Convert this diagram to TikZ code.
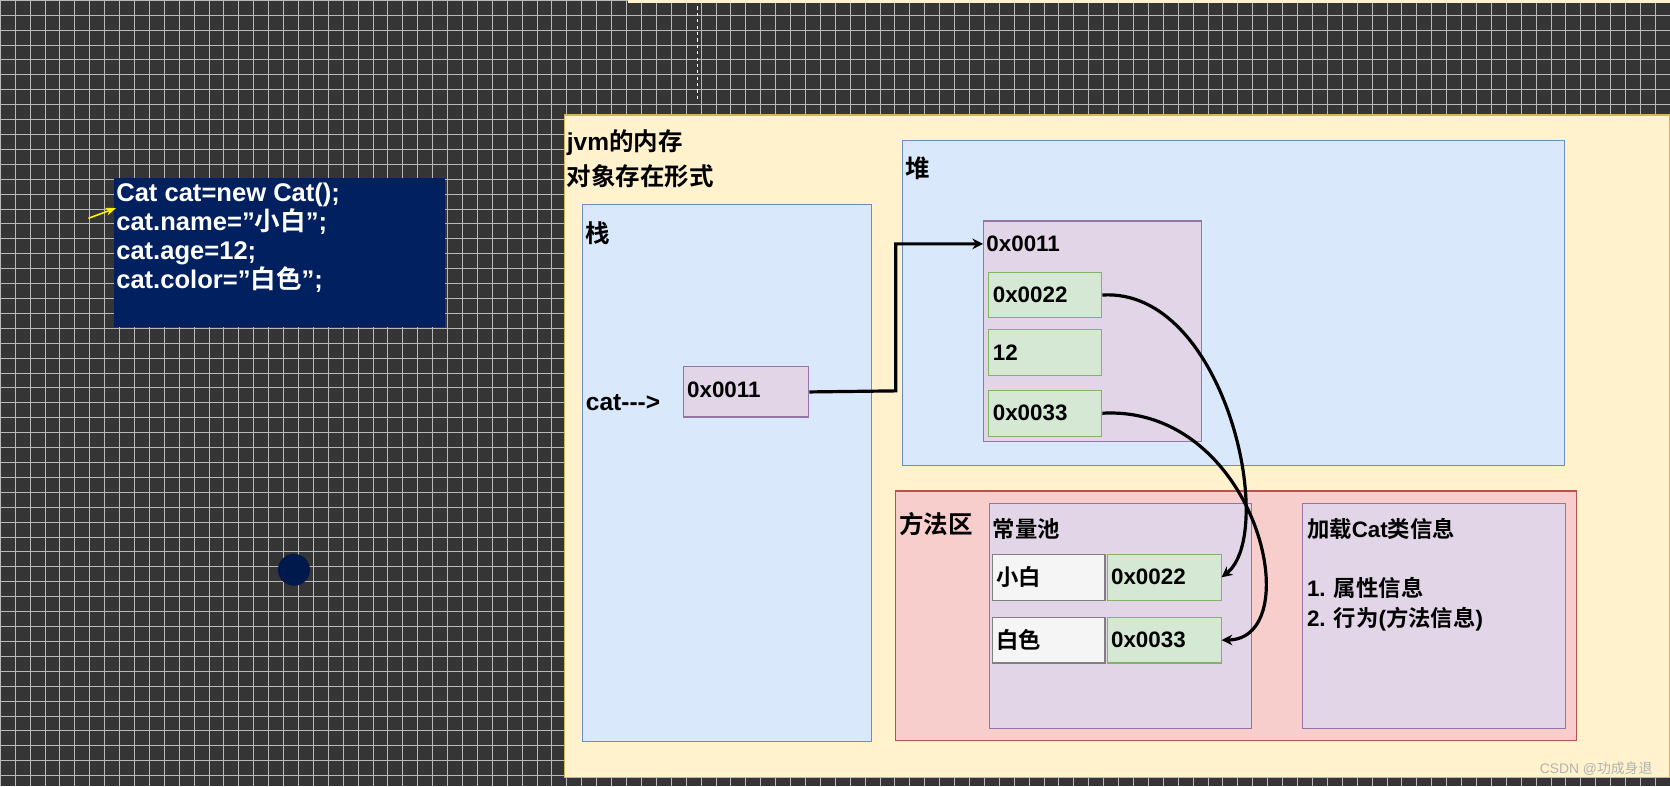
\documentclass[tikz,border=0pt]{standalone}
\usepackage{fontspec}
\setmainfont{Liberation Sans}[Ligatures=NoCommon]
\newfontfamily\cjk{Noto Sans CJK SC}[BoldFont={Noto Sans CJK SC Bold}]
\newcommand{\zh}[1]{{\cjk #1}}
\newcommand{\dq}{\char"0022\relax}
\usetikzlibrary{arrows.meta}
\definecolor{bg}{HTML}{353535}
\definecolor{navy}{HTML}{002060}
\definecolor{yel}{HTML}{FFF2CC}\definecolor{yelS}{HTML}{D6B656}
\definecolor{blu}{HTML}{DAE8FC}\definecolor{bluS}{HTML}{6C8EBF}
\definecolor{pur}{HTML}{E1D5E7}\definecolor{purS}{HTML}{9673A6}
\definecolor{grn}{HTML}{D5E8D4}\definecolor{grnS}{HTML}{82B366}
\definecolor{red}{HTML}{F8CECC}\definecolor{redS}{HTML}{B85450}
\definecolor{wht}{HTML}{F5F5F5}
\tikzset{
 box/.style={draw,line width=1pt},
 yb/.style={box,fill=yel,draw=yelS},
 bb/.style={box,fill=blu,draw=bluS},
 pb/.style={box,fill=pur,draw=purS},
 gb/.style={box,fill=grn,draw=grnS},
 rb/.style={box,fill=red,draw=redS},
 wb/.style={box,fill=wht,draw=gray},
 lbl/.style={anchor=west,inner sep=0pt,font=\bfseries\fontsize{21}{25}\selectfont},
 big/.style={anchor=west,inner sep=0pt,font=\bfseries\fontsize{23}{27}\selectfont},
 code/.style={anchor=base west,inner sep=0pt,text=white,font=\bfseries\fontsize{24}{28}\selectfont},
 link/.style={line width=3pt,-{Stealth[length=10pt,width=10pt]}}
}
\begin{document}
\begin{tikzpicture}[x=1pt,y=-1pt]
\useasboundingbox (0,0) rectangle (1568,738);
\fill[bg] (0,0) rectangle (1568,738);
\foreach \i in {0,14,...,1568} \draw[gray!55,line width=0.4pt] (\i,0) -- (\i,738);
\foreach \j in {0,14,...,738} \draw[gray!55,line width=0.4pt] (0,\j) -- (1568,\j);
\fill[yel] (590,0) rectangle (1568,3);
\draw[white,dashed] (655,0) -- (655,95);
% code
\fill[navy] (107,167) rectangle (418,307);
\node[code] (c1) at (109,189) {Cat cat=new Cat();};
\node[code] (c2) at (109,216) {cat.name=\dq\zh{小白}\dq;};
\node[code] (c3) at (109,244) {cat.age=12;};
\node[code] (c4) at (109,271) {cat.color=\dq\zh{白色}\dq;};
\coordinate (ya) at (83,205);
\draw[yellow,line width=1.5pt,-{Stealth}] (ya) -- (c2.north west);
\fill[navy!80!black] (276,535) circle (15);
% jvm
\draw[yb] (530,108) rectangle (1568,730);
\node[big] (t1) at (532,134) {jvm\zh{的内存}};
\node[big] (t2) at (532,165) {\zh{对象存在形式}};
% stack
\draw[bb] (547,192) rectangle (818,696);
\node[big] at (550,219) {\zh{栈}};
\node[big] at (550,378) {cat{-}{-}{-}>};
\node[pb,minimum width=118pt,minimum height=47pt,anchor=north west] (s1) at (641,344) {};
\node[lbl] at (645,366) {0x0011};
% heap
\draw[bb] (847,132) rectangle (1469,437);
\node[big] at (850,158) {\zh{堆}};
\node[pb,minimum width=205pt,minimum height=207pt,anchor=north west] (obj) at (923,207) {};
\node[lbl] (oa) at (926,229) {0x0011};
\node[gb,minimum width=106pt,minimum height=43pt,anchor=north west] (h1) at (928,255) {};
\node[lbl] at (932,277) {0x0022};
\node[gb,minimum width=106pt,minimum height=43pt,anchor=north west] (h2) at (928,309) {};
\node[lbl] at (932,331) {12};
\node[gb,minimum width=106pt,minimum height=43pt,anchor=north west] (h3) at (928,366) {};
\node[lbl] at (932,388) {0x0033};
% method area
\draw[rb] (841,461) rectangle (1480,695);
\node[big] at (844,492) {\zh{方法区}};
\draw[pb] (929,473) rectangle (1175,684);
\node[lbl] at (932,497) {\zh{常量池}};
\node[wb,minimum width=106pt,minimum height=43pt,anchor=north west] (p1) at (931,520) {};
\node[lbl] at (935,542) {\zh{小白}};
\node[gb,minimum width=107pt,minimum height=43pt,anchor=north west] (p2) at (1039,520) {};
\node[lbl] at (1043,542) {0x0022};
\node[wb,minimum width=106pt,minimum height=43pt,anchor=north west] (p3) at (931,579) {};
\node[lbl] at (935,601) {\zh{白色}};
\node[gb,minimum width=107pt,minimum height=43pt,anchor=north west] (p4) at (1039,579) {};
\node[lbl] at (1043,601) {0x0033};
\draw[pb] (1223,473) rectangle (1470,684);
\node[lbl] at (1227,497) {\zh{加载}Cat\zh{类信息}};
\node[lbl] at (1227,552) {1. \zh{属性信息}};
\node[lbl] at (1227,581) {2. \zh{行为}(\zh{方法信息})};
% arrows
\draw[link] (s1.east) -- (841,367) -- (841,229) -- (obj.north west |- oa);
\draw[link] (h1.east) .. controls (1150,270) and (1200,500) .. (p2.east);
\draw[link] (h3.east) .. controls (1180,380) and (1230,600) .. (p4.east);
\node[anchor=east,text=gray!60,font=\fontsize{13}{15}\selectfont] at (1555,722) {CSDN @\zh{功成身退}};
\end{tikzpicture}
\end{document}
